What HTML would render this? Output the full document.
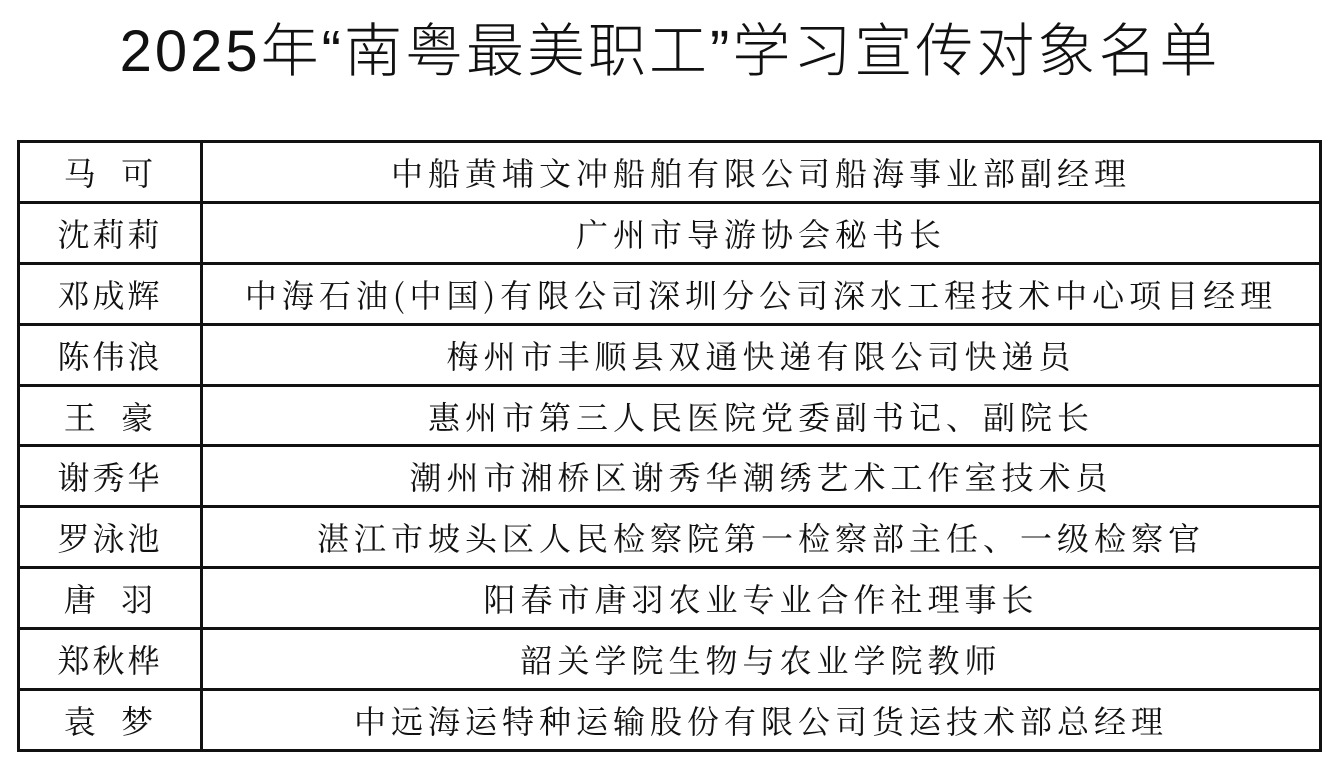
<!DOCTYPE html>
<html><head><meta charset="utf-8"><style>
html,body{margin:0;padding:0;background:#fff;}
body{width:1340px;height:769px;position:relative;overflow:hidden;font-family:"Noto Serif CJK SC","Liberation Serif",serif;color:#111;}
.title{position:absolute;left:0;top:17px;width:1340px;text-align:center;font-size:58px;line-height:70px;letter-spacing:3px;font-family:"Liberation Sans","Noto Sans CJK SC",sans-serif;font-weight:300;}
table{position:absolute;left:17px;top:140px;width:1305px;height:612px;border-collapse:collapse;border:3px solid #111;}
td{border:3px solid #111;height:55px;padding:0;text-align:center;font-size:32px;}
td.n{width:180px;letter-spacing:3px;}
td.d{letter-spacing:5px;}
</style></head><body>
<div class="title">2025年“南粤最美职工”学习宣传对象名单</div>
<table>
<tr><td class="n">马&nbsp;&nbsp;可</td><td class="d">中船黄埔文冲船舶有限公司船海事业部副经理</td></tr>
<tr><td class="n">沈莉莉</td><td class="d">广州市导游协会秘书长</td></tr>
<tr><td class="n">邓成辉</td><td class="d">中海石油(中国)有限公司深圳分公司深水工程技术中心项目经理</td></tr>
<tr><td class="n">陈伟浪</td><td class="d">梅州市丰顺县双通快递有限公司快递员</td></tr>
<tr><td class="n">王&nbsp;&nbsp;豪</td><td class="d">惠州市第三人民医院党委副书记、副院长</td></tr>
<tr><td class="n">谢秀华</td><td class="d">潮州市湘桥区谢秀华潮绣艺术工作室技术员</td></tr>
<tr><td class="n">罗泳池</td><td class="d">湛江市坡头区人民检察院第一检察部主任、一级检察官</td></tr>
<tr><td class="n">唐&nbsp;&nbsp;羽</td><td class="d">阳春市唐羽农业专业合作社理事长</td></tr>
<tr><td class="n">郑秋桦</td><td class="d">韶关学院生物与农业学院教师</td></tr>
<tr><td class="n">袁&nbsp;&nbsp;梦</td><td class="d">中远海运特种运输股份有限公司货运技术部总经理</td></tr>
</table>
</body></html>
